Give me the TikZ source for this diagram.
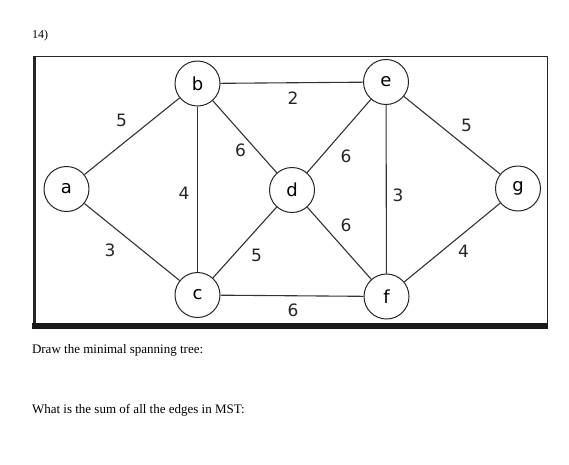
\documentclass[tikz,border=0pt]{standalone}
\usepackage{fontspec}
\setmainfont{Liberation Serif}
\newfontfamily\graphfont{DejaVu Sans}
\tikzset{
  vertex/.style={draw=black!85, circle, line width=1pt, minimum size=45pt, inner sep=0pt, fill=white, font=\graphfont\fontsize{18}{18}\selectfont},
  weight/.style={font=\graphfont\fontsize{17}{17}\selectfont, text=black!85},
  edge/.style={draw=black!80, line width=1.1pt}
}
\begin{document}
\begin{tikzpicture}[x=1pt,y=-1pt,line join=round]
	\useasboundingbox (0,0) rectangle (569,464);
	\fill[white] (0,0) rectangle (569,464);
	% frame round the graph
	\draw[black!85, line width=0.8pt] (33,56.5) rectangle (547,325);
	\draw[black!85, line width=3pt] (34,56) -- (34,326);
	\draw[black!90, line width=6pt] (32,326) -- (548,326);
	% vertices
	\node[vertex] (a) at (66.5,189) {a};
	\node[vertex] (b) at (197.5,83.5) {b};
	\node[vertex] (e) at (386,82) {e};
	\node[vertex] (d) at (292,190) {d};
	\node[vertex] (g) at (518,188.5) {g};
	\node[vertex] (c) at (197.5,295) {c};
	\node[vertex] (f) at (386.5,296.5) {f};
	% edges
	\draw[edge] (a) -- (b);
	\draw[edge] (a) -- (c);
	\draw[edge] (b) -- (c);
	\draw[edge] (b) -- (d);
	\draw[edge] (b) -- (e);
	\draw[edge] (c) -- (d);
	\draw[edge] (c) -- (f);
	\draw[edge] (d) -- (e);
	\draw[edge] (d) -- (f);
	\draw[edge] (e) -- (f);
	\draw[edge] (e) -- (g);
	\draw[edge] (f) -- (g);
	% weights
	\node[weight] (wab) at (121.5,120) {5};
	\node[weight] (wac) at (110,250) {3};
	\node[weight] (wbc) at (184,193) {4};
	\node[weight] (wbd) at (240.5,150) {6};
	\node[weight] (wbe) at (293,98) {2};
	\node[weight] (wcd) at (256.5,255) {5};
	\node[weight] (wcf) at (293,310) {6};
	\node[weight] (wde) at (346,156.5) {6};
	\node[weight] (wdf) at (346,225) {6};
	\node[weight] (wef) at (398,195) {3};
	\node[weight] (weg) at (466.5,125) {5};
	\node[weight] (wfg) at (463.5,251.5) {4};
	% question text
	\node[anchor=west, font=\fontsize{12}{12}\selectfont] (num) at (28.5,36) {14)};
	\node[anchor=west, font=\fontsize{13}{13}\selectfont] (q1) at (28.5,350) {Draw the minimal spanning tree:};
	\node[anchor=west, font=\fontsize{13}{13}\selectfont] (q2) at (28.5,410) {What is the sum of all the edges in MST:};
\end{tikzpicture}
\end{document}
